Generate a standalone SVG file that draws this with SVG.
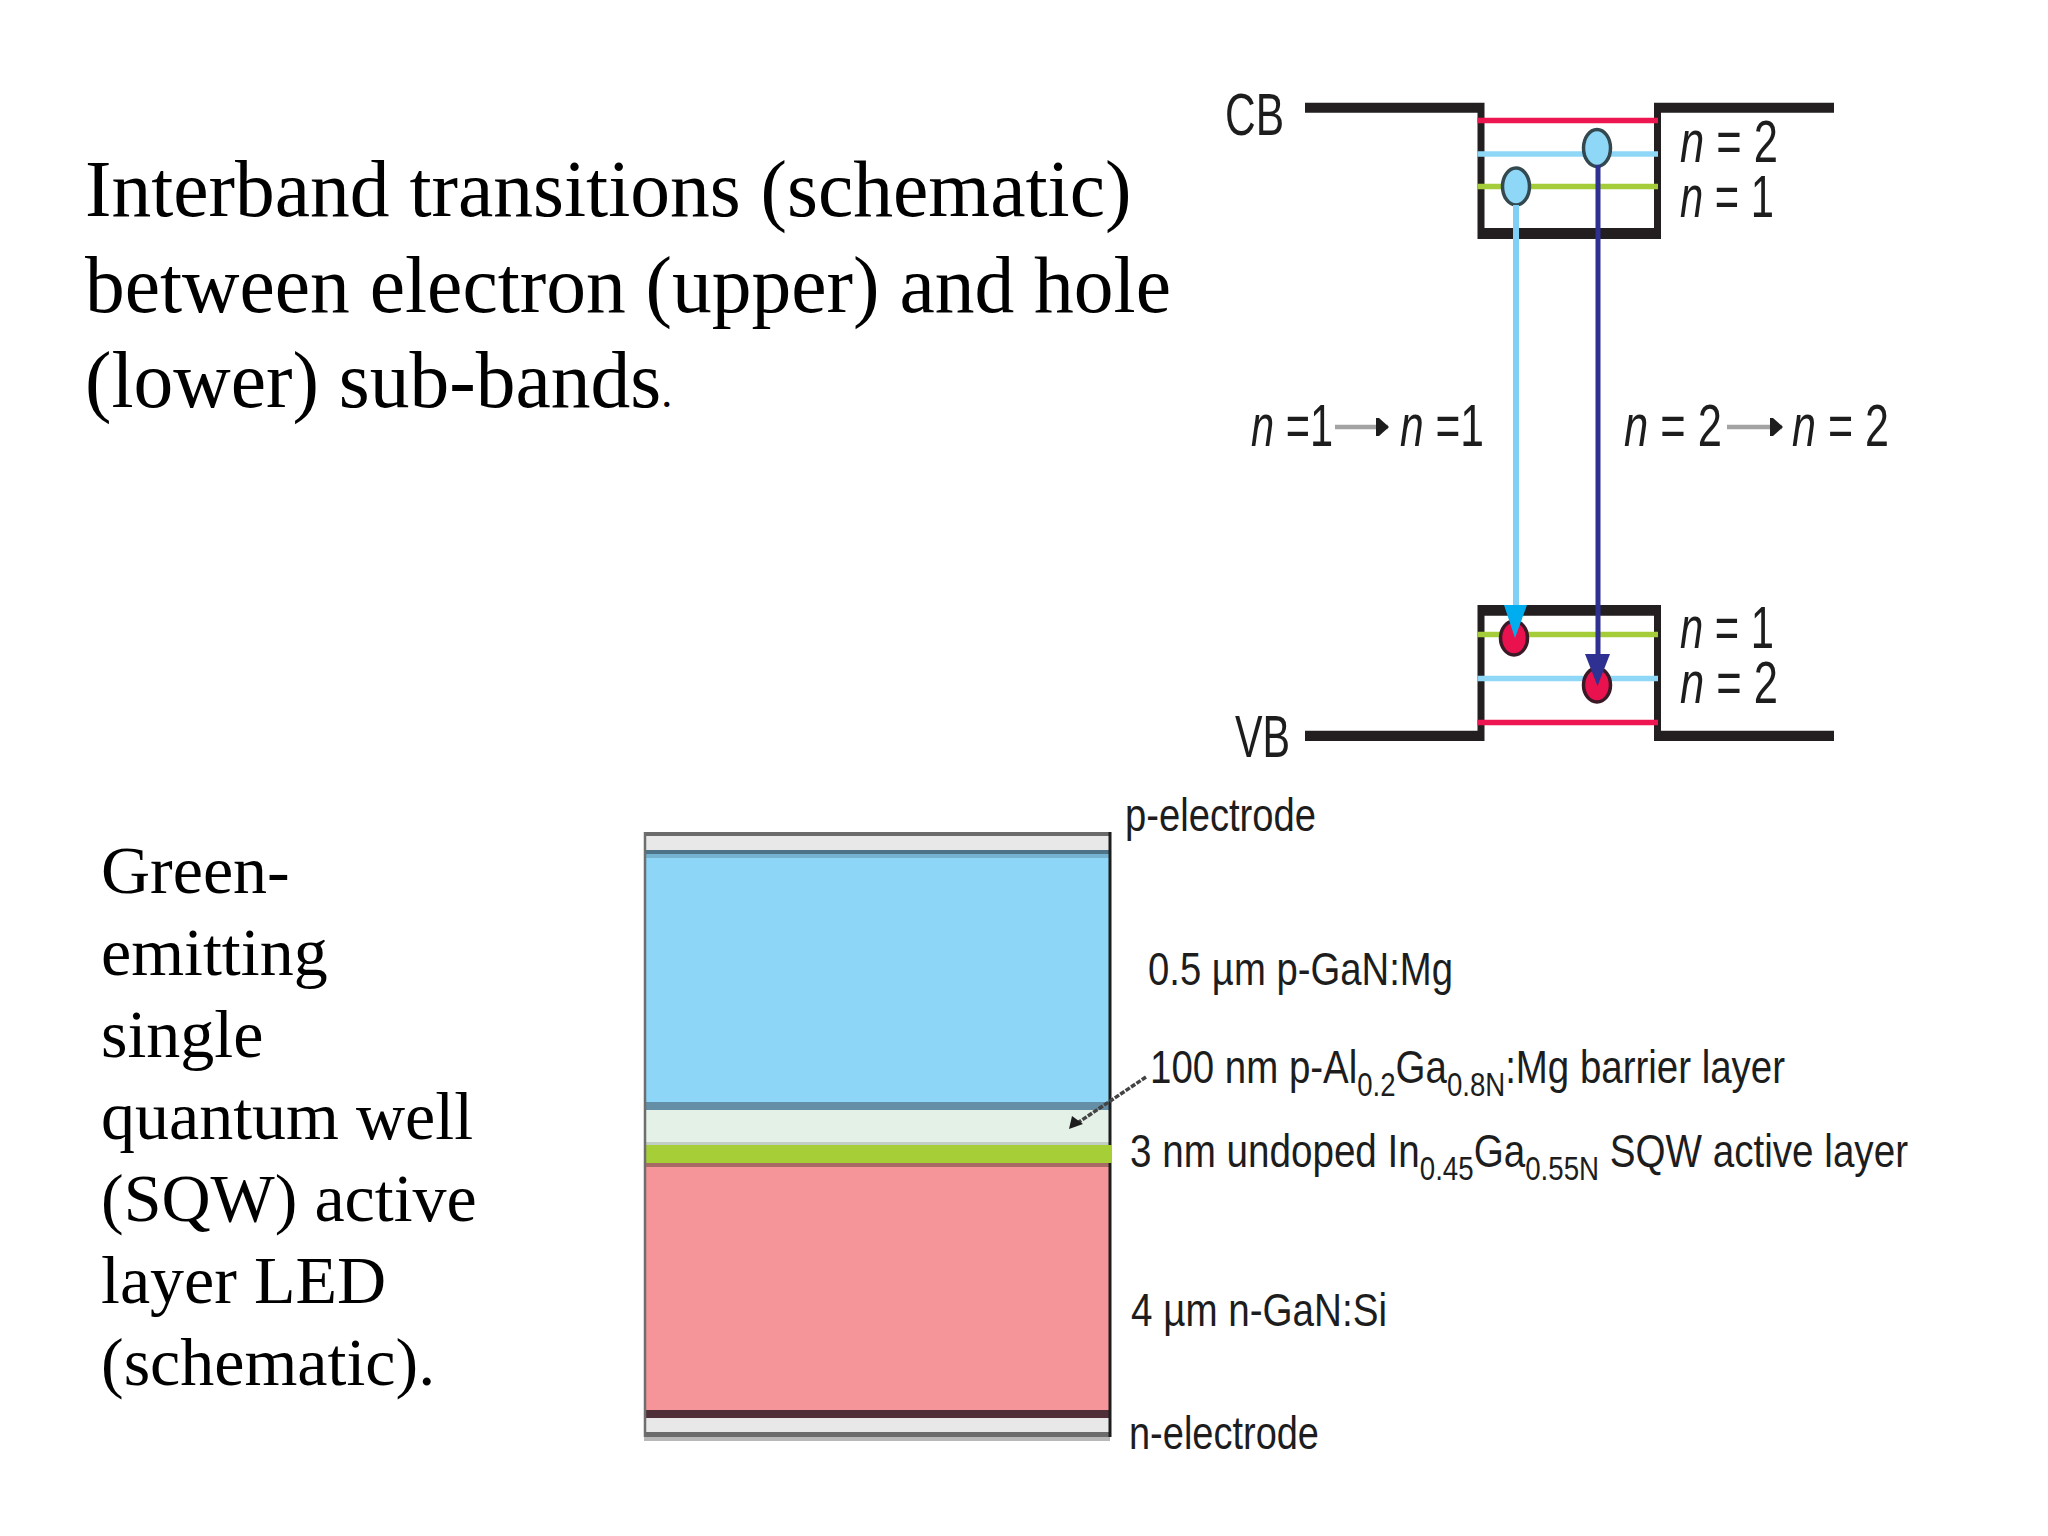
<svg xmlns="http://www.w3.org/2000/svg" width="2048" height="1536" viewBox="0 0 2048 1536">
<style>
.t{font-family:"Liberation Serif","Times New Roman",serif;fill:#000}
.t1{font-size:79.500px}
.t2{font-size:68px}
.l{font-family:"Liberation Sans",Arial,sans-serif;fill:#1d1d1d;font-size:46px}
.s{font-size:33px}
.b{font-family:"Liberation Sans",Arial,sans-serif;fill:#1d1d1d;font-size:60px}
.i{font-style:italic}
.band{fill:#231f20}
.red{stroke:#ed1651;stroke-width:5.500}
.sky{stroke:#8fd7f7;stroke-width:5.500}
.grn{stroke:#a4cd39;stroke-width:5.500}
.e{fill:#8fd7f7;stroke:#33494f;stroke-width:3.500}
.h{fill:#e9124f;stroke:#3a1a26;stroke-width:3.500}
.arr{stroke:#a3a3a3;stroke-width:4.500;fill:none}
</style>
<defs>
<marker id="ah" viewBox="0 0 16 18" refX="15" refY="9" markerWidth="16" markerHeight="18" orient="auto" markerUnits="userSpaceOnUse"><path d="M3 0V18H6L16 9L6 0Z" fill="#1d1d1d"/></marker>
</defs>
<rect width="2048" height="1536" fill="#fff"/>

<g id="title">
<text class="t t1" x="85" y="216">Interband transitions (schematic)</text>
<text class="t t1" x="85" y="312">between electron (upper) and hole</text>
<text class="t t1" x="85" y="407">(lower) sub-bands<tspan font-size="44">.</tspan></text>
</g>

<g id="caption">
<text class="t t2" x="101" y="893">Green-</text>
<text class="t t2" x="101" y="975">emitting</text>
<text class="t t2" x="101" y="1057">single</text>
<text class="t t2" x="101" y="1139">quantum well</text>
<text class="t t2" x="101" y="1221">(SQW) active</text>
<text class="t t2" x="101" y="1303">layer LED</text>
<text class="t t2" x="101" y="1385">(schematic).</text>
</g>

<g id="cb-well">
<path class="band" d="M1305 102.700H1484.500V228H1654V102.700H1834V112.700H1661V239H1477.500V112.700H1305Z"/>
<line class="red" x1="1477.500" y1="120.500" x2="1658" y2="120.500"/>
<line class="sky" x1="1477.500" y1="154" x2="1658" y2="154"/>
<line class="grn" x1="1477.500" y1="186.500" x2="1658" y2="186.500"/>
<text class="b" x="1225" y="135" textLength="59" lengthAdjust="spacingAndGlyphs">CB</text>
<text class="b" x="1680" y="162" textLength="98" lengthAdjust="spacingAndGlyphs"><tspan class="i">n</tspan> = 2</text>
<text class="b" x="1680" y="217" textLength="94" lengthAdjust="spacingAndGlyphs"><tspan class="i">n</tspan> = 1</text>
</g>

<g id="vb-well">
<path class="band" d="M1477.500 605H1661V730.700H1834V741H1654V615.700H1484.500V741H1305V730.700H1477.500Z"/>
<line class="grn" x1="1477.500" y1="634.500" x2="1658" y2="634.500"/>
<line class="sky" x1="1477.500" y1="678.500" x2="1658" y2="678.500"/>
<line class="red" x1="1477.500" y1="722.500" x2="1658" y2="722.500"/>
<text class="b" x="1235" y="757" textLength="55" lengthAdjust="spacingAndGlyphs">VB</text>
<text class="b" x="1680" y="648" textLength="94" lengthAdjust="spacingAndGlyphs"><tspan class="i">n</tspan> = 1</text>
<text class="b" x="1680" y="703" textLength="98" lengthAdjust="spacingAndGlyphs"><tspan class="i">n</tspan> = 2</text>
</g>

<g id="electron-1"><ellipse class="e" cx="1516" cy="186.500" rx="13.500" ry="18.500"/></g>
<g id="electron-2"><ellipse class="e" cx="1597" cy="148" rx="13.500" ry="18.500"/></g>
<g id="hole-1"><ellipse class="h" cx="1514" cy="638" rx="13.500" ry="17"/></g>
<g id="hole-2"><ellipse class="h" cx="1597" cy="685" rx="13.500" ry="17"/></g>

<g id="transition-labels">
<text class="b" x="1251" y="446" textLength="82" lengthAdjust="spacingAndGlyphs"><tspan class="i">n</tspan> =1</text>
<text class="b" x="1400" y="446" textLength="84" lengthAdjust="spacingAndGlyphs"><tspan class="i">n</tspan> =1</text>
<text class="b" x="1624" y="446" textLength="98" lengthAdjust="spacingAndGlyphs"><tspan class="i">n</tspan> = 2</text>
<text class="b" x="1792" y="446" textLength="97" lengthAdjust="spacingAndGlyphs"><tspan class="i">n</tspan> = 2</text>
</g>

<g id="p-electrode">
<rect x="644" y="832" width="466" height="18" fill="#e8e8e8"/>
<rect x="644" y="832" width="466" height="4" fill="#6b6b6b"/>
<text class="l" x="1125" y="831" textLength="191" lengthAdjust="spacingAndGlyphs">p-electrode</text>
</g>
<g id="p-gan">
<rect x="644" y="850" width="466" height="252" fill="#8dd6f7"/>
<rect x="644" y="850" width="466" height="4" fill="#4d7388"/>
<rect x="644" y="854" width="466" height="4" fill="#75b3d1"/>
<text class="l" x="1148" y="985" textLength="305" lengthAdjust="spacingAndGlyphs">0.5 µm p-GaN:Mg</text>
</g>
<g id="barrier">
<rect x="644" y="1102" width="466" height="8" fill="#648fa7"/>
<rect x="644" y="1110" width="466" height="35" fill="#e4f1e6"/>
<rect x="644" y="1142" width="466" height="3" fill="#c2cdc3"/>
<text class="l" x="1150" y="1083" textLength="635" lengthAdjust="spacingAndGlyphs">100 nm p-Al<tspan class="s" dy="13">0.2</tspan><tspan dy="-13">Ga</tspan><tspan class="s" dy="13">0.8N</tspan><tspan dy="-13">:Mg barrier layer</tspan></text>
</g>
<g id="sqw">
<rect x="644" y="1145" width="468" height="18" fill="#a5ce37"/>
<text class="l" x="1130" y="1167" textLength="778" lengthAdjust="spacingAndGlyphs">3 nm undoped In<tspan class="s" dy="13">0.45</tspan><tspan dy="-13">Ga</tspan><tspan class="s" dy="13">0.55N</tspan><tspan dy="-13"> SQW active layer</tspan></text>
</g>
<g id="n-gan">
<rect x="644" y="1163" width="466" height="247" fill="#f59599"/>
<rect x="644" y="1163" width="466" height="4" fill="#a86a64"/>
<rect x="644" y="1410" width="466" height="8" fill="#4f3038"/>
<text class="l" x="1131" y="1326" textLength="256" lengthAdjust="spacingAndGlyphs">4 µm n-GaN:Si</text>
</g>
<g id="n-electrode">
<rect x="644" y="1418" width="466" height="14" fill="#e8e8e8"/>
<rect x="644" y="1432" width="466" height="5" fill="#6b6b6b"/>
<rect x="644" y="1437" width="466" height="4" fill="#b8b8b8"/>
<text class="l" x="1129" y="1449" textLength="190" lengthAdjust="spacingAndGlyphs">n-electrode</text>
</g>
<g id="stack-edges">
<line x1="645" y1="832" x2="645" y2="1437" stroke="#6e6e6e" stroke-width="2.500"/>
<line x1="1110" y1="832" x2="1110" y2="1145" stroke="#1d1d1d" stroke-width="3"/>
<line x1="1110" y1="1163" x2="1110" y2="1437" stroke="#1d1d1d" stroke-width="3"/>
</g>

<g id="connectors">
<line x1="1516" y1="205" x2="1516" y2="612" stroke="#80cff4" stroke-width="6"/>
<path d="M1504 605H1527L1515 638Z" fill="#00aeef"/>
<line x1="1598" y1="165" x2="1598" y2="660" stroke="#2e3192" stroke-width="5"/>
<path d="M1585 654H1610L1597.500 686Z" fill="#2e3192"/>
<line class="arr" x1="1335" y1="427" x2="1388" y2="427" marker-end="url(#ah)"/>
<line class="arr" x1="1727" y1="427" x2="1782" y2="427" marker-end="url(#ah)"/>
<line x1="1146" y1="1077" x2="1076" y2="1124" stroke="#444" stroke-width="3.500" stroke-dasharray="5 1.500"/>
<path d="M1069 1129L1072 1116L1083 1124Z" fill="#1d1d1d"/>
</g>
</svg>
